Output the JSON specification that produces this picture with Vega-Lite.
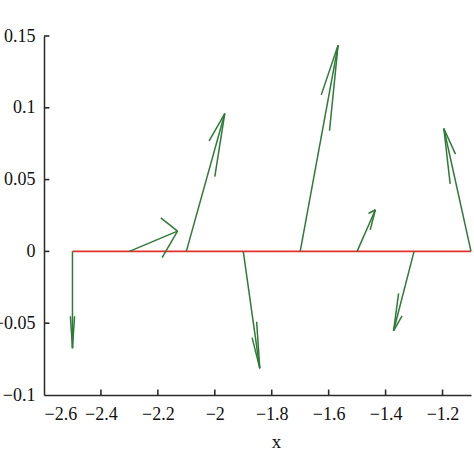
{
  "$schema": "https://vega.github.io/schema/vega-lite/v6.json",
  "width": 427,
  "height": 359,
  "autosize": {"type": "none"},
  "padding": {"left": 44, "top": 36, "right": 3, "bottom": 79},
  "background": "white",
  "view": {"stroke": null},
  "config": {
    "font": "Liberation Serif",
    "axis": {
      "grid": false,
      "ticks": false,
      "domainColor": "#2a2a2a",
      "domainWidth": 1.5,
      "labelFont": "Liberation Serif",
      "labelFontSize": 18,
      "labelColor": "#111",
      "titleFont": "Liberation Serif",
      "titleFontSize": 19,
      "titleFontWeight": "normal",
      "titleColor": "#111"
    }
  },
  "datasets": {
    "nodes": [
      {"x": -2.5, "y": 0}, {"x": -2.3, "y": 0}, {"x": -2.1, "y": 0}, {"x": -1.9, "y": 0},
      {"x": -1.7, "y": 0}, {"x": -1.5, "y": 0}, {"x": -1.3, "y": 0}, {"x": -1.1, "y": 0}
    ],
    "ticks": [
      {"xa": -2.4, "ya": -0.1, "xb": -2.4, "yb": -0.0962},
      {"xa": -2.2, "ya": -0.1, "xb": -2.2, "yb": -0.0962},
      {"xa": -2.0, "ya": -0.1, "xb": -2.0, "yb": -0.0962},
      {"xa": -1.8, "ya": -0.1, "xb": -1.8, "yb": -0.0962},
      {"xa": -1.6, "ya": -0.1, "xb": -1.6, "yb": -0.0962},
      {"xa": -1.4, "ya": -0.1, "xb": -1.4, "yb": -0.0962},
      {"xa": -1.2, "ya": -0.1, "xb": -1.2, "yb": -0.0962},
      {"xa": -2.6, "ya": -0.05, "xb": -2.581, "yb": -0.05},
      {"xa": -2.6, "ya": 0, "xb": -2.581, "yb": 0},
      {"xa": -2.6, "ya": 0.05, "xb": -2.581, "yb": 0.05},
      {"xa": -2.6, "ya": 0.1, "xb": -2.581, "yb": 0.1},
      {"xa": -2.6, "ya": 0.15, "xb": -2.581, "yb": 0.15}
    ],
    "segments": [
      {"arrow": 1, "part": "shaft", "xa": -2.5, "ya": 0, "xb": -2.5, "yb": -0.0674},
      {"arrow": 1, "part": "barb1", "xa": -2.5, "ya": -0.0674, "xb": -2.4927, "yb": -0.0452},
      {"arrow": 1, "part": "barb2", "xa": -2.5, "ya": -0.0674, "xb": -2.5073, "yb": -0.0452},
      {"arrow": 2, "part": "shaft", "xa": -2.3, "ya": 0, "xb": -2.131, "yb": 0.0141},
      {"arrow": 2, "part": "barb1", "xa": -2.131, "ya": 0.0141, "xb": -2.1895, "yb": 0.0234},
      {"arrow": 2, "part": "barb2", "xa": -2.131, "ya": 0.0141, "xb": -2.185, "yb": -0.0044},
      {"arrow": 3, "part": "shaft", "xa": -2.1, "ya": 0, "xb": -1.965, "yb": 0.096},
      {"arrow": 3, "part": "barb1", "xa": -1.965, "ya": 0.096, "xb": -2.02, "yb": 0.077},
      {"arrow": 3, "part": "barb2", "xa": -1.965, "ya": 0.096, "xb": -2.0, "yb": 0.052},
      {"arrow": 4, "part": "shaft", "xa": -1.9, "ya": 0, "xb": -1.842, "yb": -0.0814},
      {"arrow": 4, "part": "barb1", "xa": -1.842, "ya": -0.0814, "xb": -1.853, "yb": -0.049},
      {"arrow": 4, "part": "barb2", "xa": -1.842, "ya": -0.0814, "xb": -1.869, "yb": -0.06},
      {"arrow": 5, "part": "shaft", "xa": -1.7, "ya": 0, "xb": -1.567, "yb": 0.1435},
      {"arrow": 5, "part": "barb1", "xa": -1.567, "ya": 0.1435, "xb": -1.626, "yb": 0.109},
      {"arrow": 5, "part": "barb2", "xa": -1.567, "ya": 0.1435, "xb": -1.597, "yb": 0.084},
      {"arrow": 6, "part": "shaft", "xa": -1.5, "ya": 0, "xb": -1.436, "yb": 0.029},
      {"arrow": 6, "part": "barb1", "xa": -1.436, "ya": 0.029, "xb": -1.46, "yb": 0.0264},
      {"arrow": 6, "part": "barb2", "xa": -1.436, "ya": 0.029, "xb": -1.454, "yb": 0.015},
      {"arrow": 7, "part": "shaft", "xa": -1.3, "ya": 0, "xb": -1.372, "yb": -0.0553},
      {"arrow": 7, "part": "barb1", "xa": -1.372, "ya": -0.0553, "xb": -1.3422, "yb": -0.0449},
      {"arrow": 7, "part": "barb2", "xa": -1.372, "ya": -0.0553, "xb": -1.3543, "yb": -0.0292},
      {"arrow": 8, "part": "shaft", "xa": -1.1, "ya": 0, "xb": -1.1954, "yb": 0.0856},
      {"arrow": 8, "part": "barb1", "xa": -1.1954, "ya": 0.0856, "xb": -1.1732, "yb": 0.047},
      {"arrow": 8, "part": "barb2", "xa": -1.1954, "ya": 0.0856, "xb": -1.1546, "yb": 0.0677}
    ]
  },
  "layer": [
    {
      "data": {"name": "nodes"},
      "mark": {"type": "line", "color": "#e2312c", "strokeWidth": 1.6},
      "encoding": {
        "x": {
          "field": "x", "type": "quantitative",
          "scale": {"domain": [-2.6, -1.1], "nice": false, "zero": false},
          "axis": {
            "values": [-2.6, -2.4, -2.2, -2.0, -1.8, -1.6, -1.4, -1.2],
            "format": "~g",
            "title": "x",
            "labelPadding": 10,
            "titleX": 232,
            "titleY": 46,
            "titleBaseline": "middle"
          }
        },
        "y": {
          "field": "y", "type": "quantitative",
          "scale": {"domain": [-0.1, 0.15], "nice": false, "zero": false},
          "axis": {
            "values": [-0.1, -0.05, 0, 0.05, 0.1, 0.15],
            "format": "~g",
            "title": null,
            "labelPadding": 9
          }
        }
      }
    },
    {
      "data": {"name": "ticks"},
      "mark": {"type": "rule", "color": "#2a2a2a", "strokeWidth": 1.6},
      "encoding": {
        "x": {"field": "xa", "type": "quantitative"},
        "y": {"field": "ya", "type": "quantitative"},
        "x2": {"field": "xb"},
        "y2": {"field": "yb"}
      }
    },
    {
      "data": {"name": "segments"},
      "mark": {"type": "rule", "color": "#2f7a37", "strokeWidth": 1.5},
      "encoding": {
        "x": {"field": "xa", "type": "quantitative"},
        "y": {"field": "ya", "type": "quantitative"},
        "x2": {"field": "xb"},
        "y2": {"field": "yb"}
      }
    }
  ]
}
